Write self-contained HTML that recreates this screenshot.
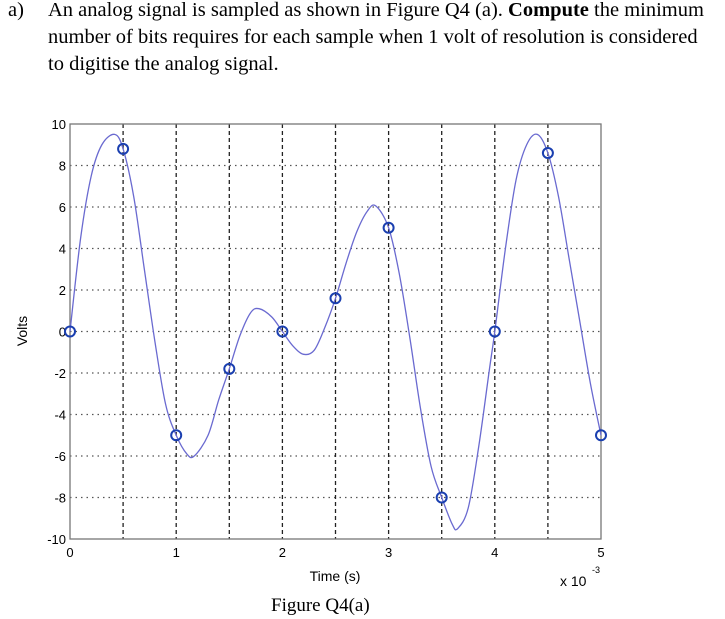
<!DOCTYPE html>
<html><head><meta charset="utf-8"><style>
body{margin:0;width:725px;height:612px;overflow:hidden;background:#fff;position:relative;font-family:"Liberation Serif",serif}
.q{position:absolute;font-size:20.5px;color:#000;line-height:27px;white-space:nowrap}
svg{position:absolute;left:0;top:0}
</style></head><body>
<div class="q" style="left:8px;top:-3px">a)</div>
<div class="q" style="left:48px;top:-3px">An analog signal is sampled as shown in Figure Q4 (a). <b>Compute</b> the minimum<br>number of bits requires for each sample when 1 volt of resolution is considered<br>to digitise the analog signal.</div>
<svg id="c" width="725" height="612"></svg>
<div class="q" style="left:271px;top:592px;font-size:19px">Figure Q4(a)</div>
<script>
const sampleT=[0,0.5,1,1.5,2,2.5,3,3.5,4,4.5,5];
const sampleV=[0,8.8,-5,-1.8,0,1.6,5,-8,0,8.6,-5];
const curveT=[0,0.1,0.2,0.3,0.42,0.5,0.6,0.7,0.8,0.9,1.0,1.1,1.17,1.3,1.4,1.5,1.6,1.7,1.78,1.9,2.0,2.1,2.2,2.3,2.4,2.5,2.6,2.7,2.8,2.88,3.0,3.1,3.2,3.3,3.4,3.5,3.6,3.65,3.75,3.85,3.95,4.0,4.1,4.2,4.3,4.4,4.5,4.6,4.7,4.8,4.9,5.0];
const curveV=[0,4.5,7.5,9.0,9.5,8.8,6.5,3,-0.5,-3.5,-5,-5.9,-6.0,-5,-3.3,-1.8,-0.2,0.9,1.1,0.7,0,-0.7,-1.1,-0.9,0.2,1.6,3.3,4.8,5.8,6.05,5,2.8,-0.3,-3.7,-6.5,-8,-9.3,-9.5,-8.5,-5.5,-1.8,0,4,7.3,9.0,9.5,8.6,6.5,3.5,0.5,-2.5,-5];
const xTicks=[0,1,2,3,4,5];
const yTicks=[-10,-8,-6,-4,-2,0,2,4,6,8,10];
const vGrid=[0.5,1,1.5,2,2.5,3,3.5,4,4.5];
const L=70,R=601,T=124,B=539;
const X=t=>L+(t-0)/(5-0)*(R-L);
const Y=v=>B-(v+10)/20*(B-T);
const svg=document.getElementById('c');
const NS='http://www.w3.org/2000/svg';
function mk(tag,a,parent){const e=document.createElementNS(NS,tag);for(const k in a)e.setAttribute(k,a[k]);(parent||svg).appendChild(e);return e;}
let e;
e=mk('rect',{x:L,y:T,width:R-L,height:B-T,fill:'#fff',stroke:'none'});

yTicks.forEach(v=>{if(v===-10||v===10)return;
 e=mk('line',{x1:L,x2:R,y1:Y(v),y2:Y(v),stroke:'#555','stroke-width':1.2,'stroke-dasharray':'1.5 4'});
 });
vGrid.forEach(t=>{
 e=mk('line',{x1:X(t),x2:X(t),y1:T,y2:B,stroke:'#222','stroke-width':1.3,'stroke-dasharray':'4 3'});
 });
e=mk('rect',{x:L,y:T,width:R-L,height:B-T,fill:'none',stroke:'#777','stroke-width':1.3});

yTicks.forEach(v=>{
 e=mk('text',{x:L-4,y:Y(v)+5,'text-anchor':'end','font-size':13,'font-family':'Liberation Sans, sans-serif',fill:'#000'});
 e.textContent=v;});
xTicks.forEach(t=>{
 e=mk('text',{x:X(t),y:B+18,'text-anchor':'middle','font-size':13,'font-family':'Liberation Sans, sans-serif',fill:'#000'});
 e.textContent=t;});
const P=curveT.map((t,i)=>[X(t),Y(curveV[i])]);
let d='M'+P[0][0]+','+P[0][1];
for(let i=0;i<P.length-1;i++){const p0=P[Math.max(0,i-1)],p1=P[i],p2=P[i+1],p3=P[Math.min(P.length-1,i+2)];
 d+=` C${p1[0]+(p2[0]-p0[0])/6},${p1[1]+(p2[1]-p0[1])/6} ${p2[0]-(p3[0]-p1[0])/6},${p2[1]-(p3[1]-p1[1])/6} ${p2[0]},${p2[1]}`;}
e=mk('path',{d:d,fill:'none',stroke:'#6a6ad0','stroke-width':1.3});

sampleT.forEach((t,i)=>{
 e=mk('circle',{cx:X(t),cy:Y(sampleV[i]),r:5,fill:'none',stroke:'#1a3fb0','stroke-width':2});
 });
e=mk('text',{x:335,y:581,'text-anchor':'middle','font-size':14,'font-family':'Liberation Sans, sans-serif'});
e.textContent='Time (s)';
e=mk('text',{x:560,y:586,'font-size':14,'font-family':'Liberation Sans, sans-serif'});
e.textContent='x 10';
e=mk('text',{x:592,y:573,'font-size':9,'font-family':'Liberation Sans, sans-serif'});
e.textContent='-3';
e=mk('text',{x:0,y:0,'text-anchor':'middle','font-size':14,'font-family':'Liberation Sans, sans-serif',transform:'translate(27,331) rotate(-90)'});
e.textContent='Volts';
</script>
</body></html>
